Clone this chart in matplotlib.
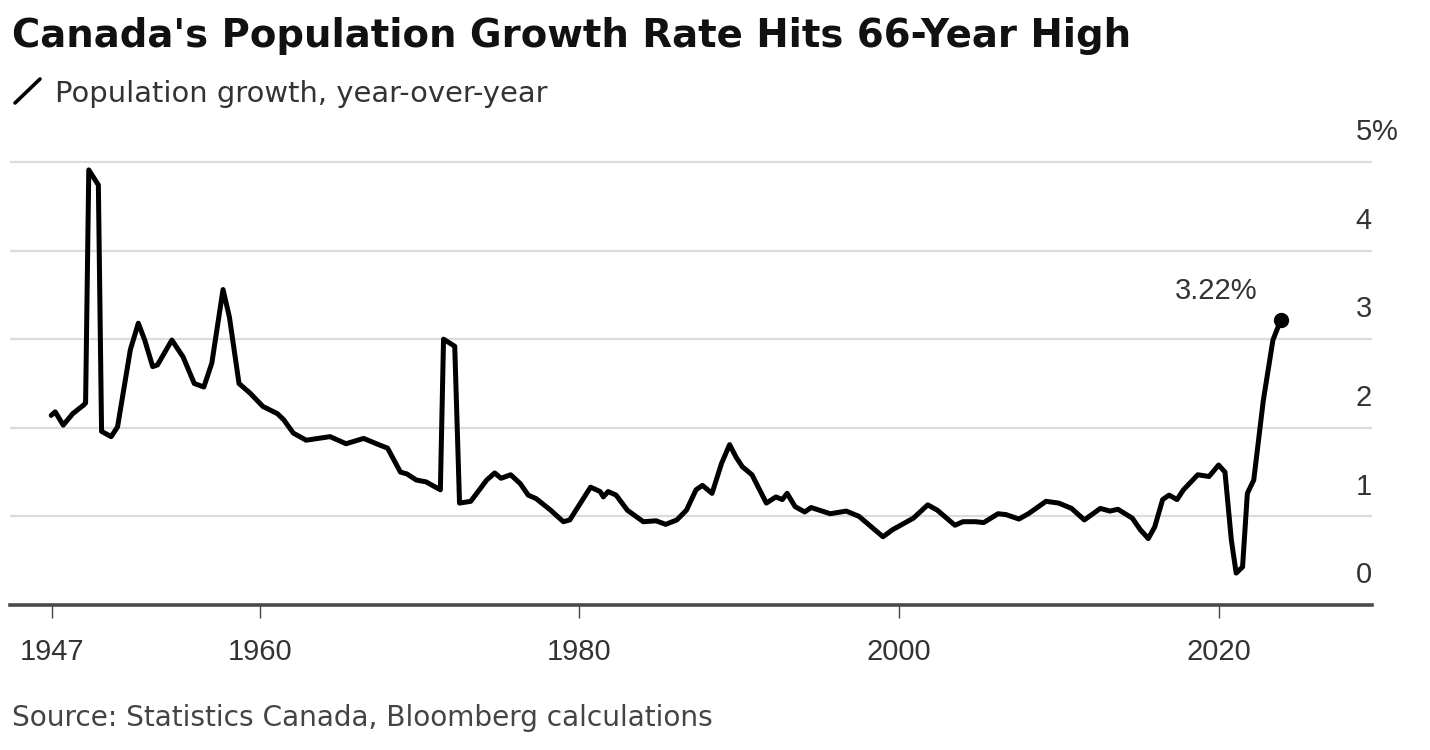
import matplotlib
matplotlib.use("Agg")
import matplotlib.pyplot as plt
import matplotlib.transforms as mtransforms
from matplotlib.lines import Line2D

plt.rcParams['font.family'] = ['Liberation Sans', 'DejaVu Sans']

# ---- data ----
years = [1946.95, 1947.2, 1947.7, 1948.3, 1949.0, 1949.1, 1949.3, 1949.9, 1950.1, 1950.7,
         1951.1, 1951.9, 1952.4, 1952.8, 1953.3, 1953.6, 1954.5, 1955.2, 1955.9, 1956.5,
         1957.0, 1957.7, 1958.1, 1958.7, 1959.4, 1960.2, 1961.1, 1961.5, 1962.1, 1962.9,
         1964.4, 1965.4, 1966.5, 1967.3, 1968.0, 1968.8, 1969.2, 1969.8, 1970.4, 1971.3,
         1971.5, 1972.2, 1972.5, 1973.2, 1974.2, 1974.7, 1975.1, 1975.7, 1976.3, 1976.8,
         1977.3, 1978.2, 1979.0, 1979.4, 1980.7, 1981.3, 1981.5, 1981.8, 1982.3, 1983.0,
         1984.0, 1984.8, 1985.4, 1986.1, 1986.7, 1987.3, 1987.7, 1988.3, 1988.9, 1989.4,
         1989.8, 1990.2, 1990.8, 1991.7, 1992.3, 1992.7, 1993.0, 1993.5, 1994.1, 1994.5,
         1995.7, 1996.7, 1997.5, 1999.0, 1999.6, 2000.9, 2001.8, 2002.4, 2003.5, 2004.0,
         2004.8, 2005.3, 2006.2, 2006.7, 2007.5, 2008.1, 2009.2, 2010.0, 2010.8, 2011.6,
         2012.6, 2013.2, 2013.7, 2014.6, 2015.1, 2015.6, 2016.0, 2016.5, 2016.9, 2017.4,
         2017.8, 2018.7, 2019.4, 2020.0, 2020.4, 2020.8, 2021.1, 2021.5, 2021.8, 2022.2,
         2022.8, 2023.4, 2023.9]
growth = [2.14, 2.18, 2.03, 2.16, 2.26, 2.28, 4.91, 4.74, 1.96, 1.90,
          2.01, 2.88, 3.18, 2.99, 2.69, 2.71, 2.99, 2.80, 2.50, 2.46,
          2.73, 3.56, 3.25, 2.50, 2.39, 2.24, 2.16, 2.09, 1.94, 1.86,
          1.90, 1.82, 1.88, 1.82, 1.77, 1.50, 1.48, 1.41, 1.39, 1.30,
          3.00, 2.92, 1.15, 1.17, 1.41, 1.49, 1.43, 1.47, 1.37, 1.24,
          1.20, 1.07, 0.94, 0.96, 1.33, 1.28, 1.22, 1.28, 1.24, 1.07,
          0.94, 0.95, 0.91, 0.96, 1.07, 1.30, 1.35, 1.26, 1.60, 1.81,
          1.67, 1.56, 1.47, 1.15, 1.22, 1.19, 1.26, 1.11, 1.05, 1.10,
          1.03, 1.06, 1.00, 0.77, 0.85, 0.98, 1.13, 1.07, 0.90, 0.94,
          0.94, 0.93, 1.03, 1.02, 0.97, 1.03, 1.17, 1.15, 1.09, 0.96,
          1.09, 1.06, 1.08, 0.98, 0.85, 0.75, 0.88, 1.19, 1.24, 1.19,
          1.30, 1.47, 1.45, 1.58, 1.50, 0.73, 0.36, 0.43, 1.26, 1.41,
          2.31, 2.99, 3.22]
x_ticks = [1947, 1960, 1980, 2000, 2020]
y_ticks = [0, 1, 2, 3, 4, 5]
last_label = "3.22%"

title = "Canada's Population Growth Rate Hits 66-Year High"
subtitle = "Population growth, year-over-year"
source = "Source: Statistics Canada, Bloomberg calculations"

W, H = 1430, 750
fig = plt.figure(figsize=(W / 100, H / 100), dpi=100)
fig.patch.set_facecolor('white')
renderer = fig.canvas.get_renderer()


def fit_text(x_px, base_px, s, target_w, size0, **kw):
    t = fig.text(x_px / W, 1 - base_px / H, s, fontsize=size0, ha='left',
                 va='baseline', **kw)
    w = t.get_window_extent(renderer=renderer).width
    t.set_fontsize(size0 * target_w / w)
    return t


# axes: x 10..1372 px, y 150..605 px (from top)
ax = fig.add_axes([10 / W, (H - 605) / H, 1362 / W, 455 / H])
ax.set_xlim(1944.37, 2029.6)
ax.set_ylim(0, 5.135)
ax.set_facecolor('white')

for s in ['top', 'right', 'left']:
    ax.spines[s].set_visible(False)
ax.spines['bottom'].set_color('#4a4a4a')
ax.spines['bottom'].set_linewidth(2.6)
ax.spines['bottom'].set_zorder(5)

for v in y_ticks[1:]:
    ax.axhline(v, color='#dcdcdc', lw=1.6, zorder=1)

ax.set_yticks([])
ax.set_xticks(x_ticks)
ax.set_xticklabels([str(t) for t in x_ticks], fontsize=21, color='#333333')
ax.tick_params(axis='x', length=9, width=1.0, color='#444444', pad=15)

ax.plot(years, growth, color='black', lw=3.6, solid_joinstyle='round',
        solid_capstyle='round', zorder=3, clip_on=False)
ax.plot([years[-1]], [growth[-1]], 'o', color='black', ms=10, zorder=4, clip_on=False)
ax.annotate(last_label, xy=(years[-1], growth[-1]), xytext=(-17, 21),
            textcoords='offset points', ha='right', va='center',
            fontsize=21, color='#333333')

trans = mtransforms.blended_transform_factory(ax.transAxes, ax.transData)
for v in y_ticks:
    ax.text(1.0, v + 0.335, str(v), transform=trans, ha='right', va='center',
            fontsize=21, color='#333333')
ax.text(1.0, 5 + 0.335, "%", transform=trans, ha='left', va='center',
        fontsize=21, color='#333333')

fit_text(12, 47, title, 1120, 26, family=['DejaVu Sans'], fontweight='bold',
         color='#111111')
fit_text(55, 102, subtitle, 493, 18, family=['DejaVu Sans'], color='#333333')
fit_text(12, 726, source, 706, 18, family=['DejaVu Sans'], color='#444444')
fig.lines.append(Line2D([15 / W, 40 / W], [1 - 103 / H, 1 - 79 / H],
                        transform=fig.transFigure, color='black', lw=2.6,
                        solid_capstyle='round'))

fig.savefig('out.png', dpi=100, facecolor='white')
